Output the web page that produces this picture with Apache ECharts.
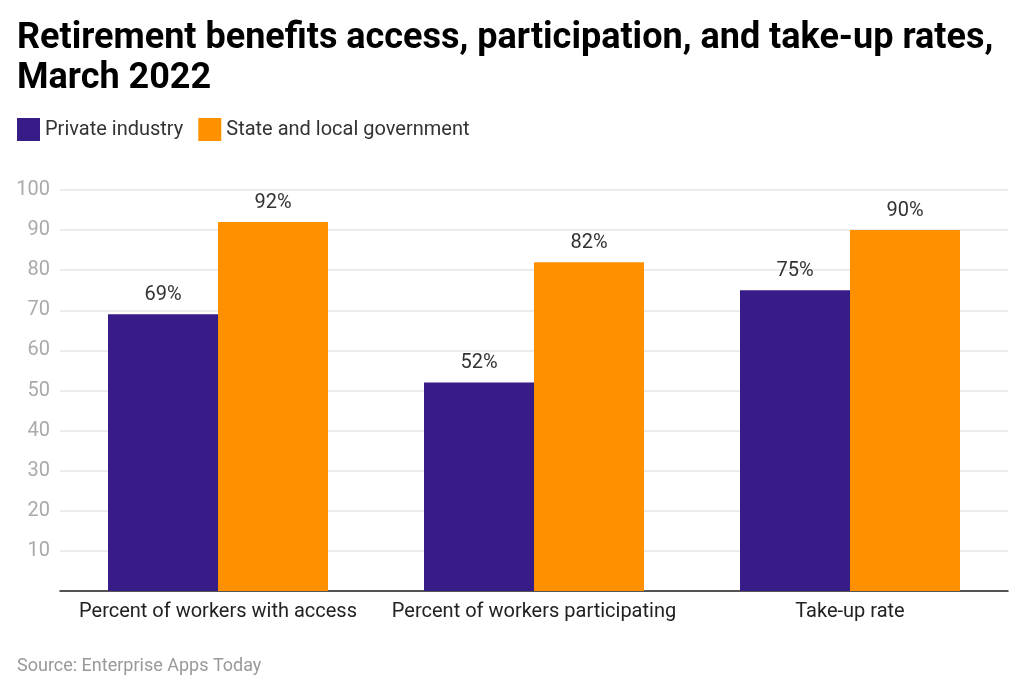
<!DOCTYPE html>
<html>
<head>
<meta charset="utf-8">
<script src="https://cdn.jsdelivr.net/npm/echarts@6/dist/echarts.min.js"></script>
<style>
html,body{margin:0;padding:0;background:#fff;}
#c{width:1024px;height:694px;}
</style>
</head>
<body>
<div id="c"></div>
<script>
const categories = ["Percent of workers with access", "Percent of workers participating", "Take-up rate"];
const privateIndustry = [69, 52, 75];
const stateLocal = [92, 82, 90];
const yTicks = [10, 20, 30, 40, 50, 60, 70, 80, 90, 100];

const chart = echarts.init(document.getElementById('c'), null, {renderer: 'canvas'});
const font = 'Roboto, "Noto Sans", sans-serif';
chart.setOption({
  animation: false,
  backgroundColor: '#fff',
  textStyle: {fontFamily: font},
  title: [{
    text: 'Retirement benefits access, participation, and take-up rates,\nMarch 2022',
    left: 17, top: 19, padding: 0,
    textStyle: {fontFamily: font, fontSize: 36, fontWeight: 'bold', color: '#000', lineHeight: 40}
  }, {
    text: 'Source: Enterprise Apps Today',
    left: 17, top: 657, padding: 0,
    textStyle: {fontFamily: font, fontSize: 18, fontWeight: 'normal', color: '#999'}
  }],
  legend: {
    left: 17, top: 118, padding: 0,
    itemWidth: 23, itemHeight: 23, itemGap: 15,
    icon: 'rect',
    textStyle: {fontFamily: font, fontSize: 20, color: '#333'},
    data: ['Private industry', 'State and local government']
  },
  grid: {left: 60, right: 16, top: 190, bottom: 103, containLabel: false},
  xAxis: {
    type: 'category',
    data: categories,
    axisLine: {show: true, lineStyle: {color: '#222', width: 1.5}},
    axisTick: {show: false},
    axisLabel: {interval: 0, fontFamily: font, fontSize: 20, color: '#222', margin: 11}
  },
  yAxis: {
    type: 'value',
    min: 0, max: 100, interval: 10,
    axisLine: {show: false},
    axisTick: {show: false},
    splitLine: {lineStyle: {color: '#e6e6e6', width: 1.5}},
    axisLabel: {
      fontFamily: font, fontSize: 20, color: '#aaa', margin: 10,
      formatter: v => yTicks.includes(v) ? String(v) : ''
    }
  },
  series: [{
    name: 'Private industry',
    type: 'bar',
    data: privateIndustry,
    barWidth: 110,
    barGap: '0%',
    itemStyle: {color: '#371B87'},
    label: {show: true, position: 'top', distance: 9, formatter: '{c}%', fontFamily: font, fontSize: 20, color: '#333'}
  }, {
    name: 'State and local government',
    type: 'bar',
    data: stateLocal,
    barWidth: 110,
    barGap: '0%',
    itemStyle: {color: '#FF9100'},
    label: {show: true, position: 'top', distance: 9, formatter: '{c}%', fontFamily: font, fontSize: 20, color: '#333'}
  }]
});
</script>
</body>
</html>
